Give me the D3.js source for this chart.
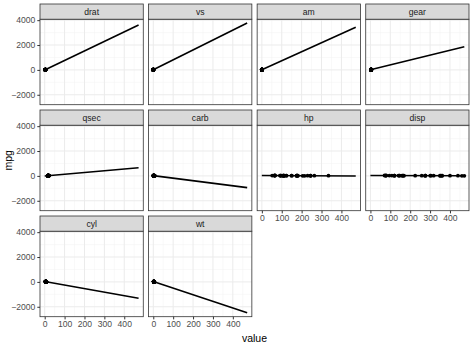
<!DOCTYPE html>
<html><head><meta charset="utf-8">
<script src="https://cdn.jsdelivr.net/npm/d3@7"></script>
<style>body{margin:0;background:#fff}svg{display:block}</style>
</head><body><svg id="c" width="474" height="345"></svg>
<script>
// mtcars data
const mpg  = [21.0,21.0,22.8,21.4,18.7,18.1,14.3,24.4,22.8,19.2,17.8,16.4,17.3,15.2,10.4,10.4,14.7,32.4,30.4,33.9,21.5,15.5,15.2,13.3,19.2,27.3,26.0,30.4,15.8,19.7,15.0,21.4];
const cyl  = [6,6,4,6,8,6,8,4,4,6,6,8,8,8,8,8,8,4,4,4,4,8,8,8,8,4,4,4,8,6,8,4];
const disp = [160,160,108,258,360,225,360,146.7,140.8,167.6,167.6,275.8,275.8,275.8,472,460,440,78.7,75.7,71.1,120.1,318,304,350,400,79,120.3,95.1,351,145,301,121];
const hp   = [110,110,93,110,175,105,245,62,95,123,123,180,180,180,205,215,230,66,52,65,97,150,150,245,175,66,91,113,264,175,335,109];
const drat = [3.90,3.90,3.85,3.08,3.15,2.76,3.21,3.69,3.92,3.92,3.92,3.07,3.07,3.07,2.93,3.00,3.23,4.08,4.93,4.22,3.70,2.76,3.15,3.73,3.08,4.08,4.43,3.77,4.22,3.62,3.54,4.11];
const wt   = [2.620,2.875,2.320,3.215,3.440,3.460,3.570,3.190,3.150,3.440,3.440,4.070,3.730,3.780,5.250,5.424,5.345,2.200,1.615,1.835,2.465,3.520,3.435,3.840,3.845,1.935,2.140,1.513,3.170,2.770,3.570,2.780];
const qsec = [16.46,17.02,18.61,19.44,17.02,20.22,15.84,20.00,22.90,18.30,18.90,17.40,17.60,18.00,17.98,17.82,17.42,19.47,18.52,19.90,20.01,16.87,17.30,15.41,17.05,18.90,16.70,16.90,14.50,15.50,14.60,18.60];
const vs   = [0,0,1,1,0,1,0,1,1,1,1,0,0,0,0,0,0,1,1,1,1,0,0,0,0,1,0,1,0,0,0,1];
const am   = [1,1,1,0,0,0,0,0,0,0,0,0,0,0,0,0,0,1,1,1,0,0,0,0,0,1,1,1,1,1,1,1];
const gear = [4,4,4,3,3,3,3,4,4,4,4,3,3,3,3,3,3,4,4,4,3,3,3,3,3,4,5,5,5,5,5,4];
const carb = [4,4,1,1,2,1,4,2,2,4,4,3,3,3,4,4,4,1,2,1,1,2,2,4,2,1,2,2,4,6,8,2];

const facets = ["drat","vs","am","gear","qsec","carb","hp","disp","cyl","wt"];
const xTicks = [0,100,200,300,400];
const yTicks = [-2000,0,2000,4000];

const vars = {drat,vs,am,gear,qsec,carb,hp,disp,cyl,wt};

// linear fit per facet (geom_smooth method = "lm", fullrange)
function lm(x,y){
  const mx=d3.mean(x), my=d3.mean(y);
  let sxy=0,sxx=0;
  for(let i=0;i<x.length;i++){sxy+=(x[i]-mx)*(y[i]-my);sxx+=(x[i]-mx)**2;}
  const b=sxy/sxx; return {a:my-b*mx,b};
}
const allX = facets.flatMap(f=>vars[f]);
const xr = d3.extent(allX);
const fits = {};
facets.forEach(f=>fits[f]=lm(vars[f],mpg));
const allY = mpg.slice();
facets.forEach(f=>{allY.push(fits[f].a+fits[f].b*xr[0], fits[f].a+fits[f].b*xr[1]);});
const yr = d3.extent(allY);
const ex = (xr[1]-xr[0])*0.05, ey=(yr[1]-yr[0])*0.05;

const L=40, R=469, gap=5.3, ncol=4;
const pw=(R-L-gap*(ncol-1))/ncol;
const rowTop=[4,110,216], stripH=15.2, ph=85.5;

const x = d3.scaleLinear().domain([xr[0]-ex,xr[1]+ex]).range([0,pw]);
const y = d3.scaleLinear().domain([yr[0]-ey,yr[1]+ey]).range([ph,0]);

const svg=d3.select("#c");
const font="'Liberation Sans', Arial, sans-serif";
const fs=8.6;

facets.forEach((f,i)=>{
  const col=i%ncol,row=Math.floor(i/ncol);
  const gx=L+col*(pw+gap), gy=rowTop[row]+stripH;
  const g=svg.append("g").attr("transform",`translate(${gx},${gy})`);
  g.append("rect").attr("width",pw).attr("height",ph).attr("fill","#fff");
  const xd=x.domain(), yd=y.domain();
  const xminor=d3.range(-50,500,100).filter(v=>v>=xd[0]&&v<=xd[1]);
  const yminor=d3.range(-3000,5000,2000).filter(v=>v>=yd[0]&&v<=yd[1]);
  g.selectAll(".xm").data(xminor).join("line").attr("x1",d=>x(d)).attr("x2",d=>x(d)).attr("y1",0).attr("y2",ph).attr("stroke","#f2f2f2").attr("stroke-width",0.5);
  g.selectAll(".ym").data(yminor).join("line").attr("y1",d=>y(d)).attr("y2",d=>y(d)).attr("x1",0).attr("x2",pw).attr("stroke","#f2f2f2").attr("stroke-width",0.5);
  g.selectAll(".xg").data(xTicks).join("line").attr("x1",d=>x(d)).attr("x2",d=>x(d)).attr("y1",0).attr("y2",ph).attr("stroke","#ebebeb").attr("stroke-width",1);
  g.selectAll(".yg").data(yTicks).join("line").attr("y1",d=>y(d)).attr("y2",d=>y(d)).attr("x1",0).attr("x2",pw).attr("stroke","#ebebeb").attr("stroke-width",1);
  const ft=fits[f];
  g.append("path").datum([xr[0],xr[1]]).attr("d",d3.line().x(d=>x(d)).y(d=>y(ft.a+ft.b*d)))
    .attr("stroke","#000").attr("stroke-width",1.6).attr("fill","none");
  g.selectAll("circle").data(vars[f].map((v,k)=>[v,mpg[k]])).join("circle")
    .attr("cx",d=>x(d[0])).attr("cy",d=>y(d[1])).attr("r",1.9).attr("fill","#000");
  g.append("rect").attr("width",pw).attr("height",ph).attr("fill","none").attr("stroke","#333").attr("stroke-width",0.8);
  const s=svg.append("g").attr("transform",`translate(${gx},${rowTop[row]})`);
  s.append("rect").attr("width",pw).attr("height",stripH).attr("fill","#d9d9d9").attr("stroke","#333").attr("stroke-width",0.8);
  s.append("text").attr("x",pw/2).attr("y",stripH/2).attr("dy","0.35em").attr("text-anchor","middle")
    .attr("font-family",font).attr("font-size",fs).attr("fill","#1a1a1a").text(f);
  if(col===0){
    const ay=g.append("g").call(d3.axisLeft(y).tickValues(yTicks).tickFormat(d3.format("d")).tickSize(2.7).tickPadding(2));
    ay.select(".domain").remove();
    ay.selectAll("line").attr("stroke","#333");
    ay.selectAll("text").attr("font-family",font).attr("font-size",fs).attr("fill","#4d4d4d");
  }
  const last = i+ncol>=facets.length;
  if(last){
    const ax=g.append("g").attr("transform",`translate(0,${ph})`).call(d3.axisBottom(x).tickValues(xTicks).tickFormat(d3.format("d")).tickSize(2.7).tickPadding(1.5));
    ax.select(".domain").remove();
    ax.selectAll("line").attr("stroke","#333");
    ax.selectAll("text").attr("font-family",font).attr("font-size",fs).attr("fill","#4d4d4d");
  }
});

svg.append("text").attr("x",(L+R)/2).attr("y",341.5).attr("text-anchor","middle")
  .attr("font-family",font).attr("font-size",10.5).attr("fill","#000").text("value");
svg.append("text").attr("transform",`translate(11.5,${(rowTop[0]+rowTop[2]+stripH+ph)/2}) rotate(-90)`).attr("text-anchor","middle")
  .attr("font-family",font).attr("font-size",10.5).attr("fill","#000").text("mpg");
</script></body></html>
